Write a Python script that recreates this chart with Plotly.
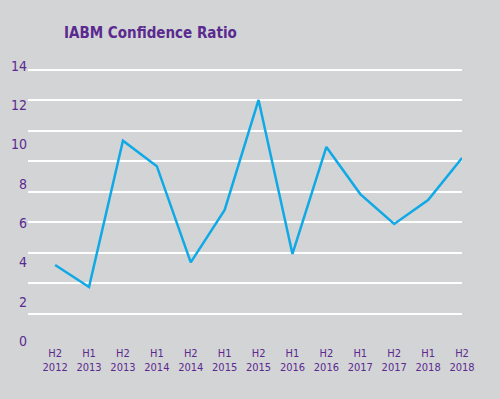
import plotly.graph_objects as go

periods = ["H2<br>2012", "H1<br>2013", "H2<br>2013", "H1<br>2014", "H2<br>2014", "H1<br>2015",
           "H2<br>2015", "H1<br>2016", "H2<br>2016", "H1<br>2017", "H2<br>2017", "H1<br>2018", "H2<br>2018"]
ratio = [3.87, 2.75, 10.2, 8.9, 4.0, 6.67, 12.27, 4.43, 9.88, 7.48, 5.96, 7.18, 9.32]
y_ticks = [0, 2, 4, 6, 8, 10, 12, 14]
grid_rows = list(range(10))

BG = "#d3d4d6"
PURPLE = "#5a2a8f"
CYAN = "#0fa9e6"
FONT = "DejaVu Sans Condensed, sans-serif"

fig = go.Figure()
# invisible trace to carry the gridline axis
fig.add_trace(go.Scatter(x=[periods[0]], y=[0], yaxis="y2", mode="markers",
                         marker=dict(opacity=0), hoverinfo="skip", showlegend=False))
fig.add_trace(go.Scatter(x=periods, y=ratio, mode="lines",
                         line=dict(color=CYAN, width=2.5), showlegend=False))

fig.update_layout(
    width=500, height=399,
    margin=dict(l=28, r=38, t=60, b=54),
    paper_bgcolor=BG, plot_bgcolor=BG,
    font=dict(family=FONT, color=PURPLE, size=11),
    title=dict(text="<b>IABM Confidence Ratio</b>", xref="container", yref="container",
               x=64/500, xanchor="left", y=1-33/399, yanchor="middle",
               font=dict(family=FONT, size=15, color=PURPLE)),
    xaxis=dict(type="category", range=[-0.8, 12], showgrid=False, zeroline=False,
               showline=False, ticks="", tickfont=dict(size=11, color=PURPLE)),
    yaxis=dict(range=[-0.2036, 14.305], tickvals=y_ticks, showgrid=False, zeroline=False,
               showline=False, ticks="", tickfont=dict(size=14, color=PURPLE)),
    yaxis2=dict(range=[-0.023, 9.328], overlaying="y", side="left", tickvals=grid_rows,
                showticklabels=False, showgrid=True, gridcolor="white", gridwidth=2,
                zeroline=False, showline=False, ticks=""),
)

fig.write_html("out.html", config={"displayModeBar": False},
               post_script="document.body.style.margin='0';document.body.style.background='%s';" % BG)
